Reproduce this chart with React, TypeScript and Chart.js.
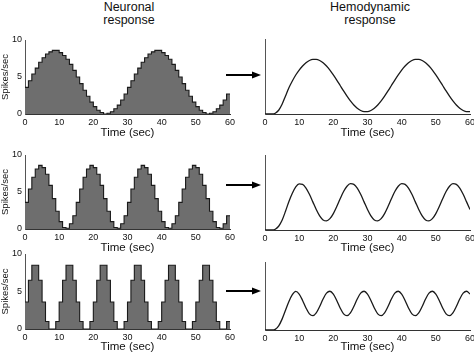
import React, { useEffect, useRef } from "react";
import { Chart, registerables } from "chart.js";
Chart.register(...registerables);

// ---------- data ----------
const xTickValues = [0, 10, 20, 30, 40, 50, 60];
const spikeTickValues = [0, 5, 10];

// neuronal firing rate per 1-s bin (spikes/sec), 60 bins
const neuronalSlow = [
  3.6, 4.5, 5.4, 6.2, 7.0, 7.6, 8.1, 8.4, 8.6, 8.6, 8.3, 7.9, 7.4, 6.7, 5.9,
  5.0, 4.1, 3.2, 2.4, 1.6, 1.0, 0.5, 0.2, 0.0, 0.1, 0.3, 0.7, 1.2, 1.9, 2.7,
  3.6, 4.5, 5.4, 6.2, 7.0, 7.6, 8.1, 8.4, 8.6, 8.6, 8.3, 7.9, 7.4, 6.7, 5.9,
  5.0, 4.1, 3.2, 2.4, 1.6, 1.0, 0.5, 0.2, 0.0, 0.1, 0.3, 0.7, 1.2, 1.9, 2.7,
];
const neuronalMedium = [
  3.6, 5.4, 7.0, 8.1, 8.6, 8.3, 7.4, 5.9, 4.1, 2.4, 1.0, 0.2, 0.1, 0.7, 1.8,
  3.6, 5.4, 7.0, 8.1, 8.6, 8.3, 7.4, 5.9, 4.1, 2.4, 1.0, 0.2, 0.1, 0.7, 1.8,
  3.6, 5.4, 7.0, 8.1, 8.6, 8.3, 7.4, 5.9, 4.1, 2.4, 1.0, 0.2, 0.1, 0.7, 1.8,
  3.6, 5.4, 7.0, 8.1, 8.6, 8.3, 7.4, 5.9, 4.1, 2.4, 1.0, 0.2, 0.1, 0.7, 1.8,
];
const neuronalFast = [
  3.6, 6.5, 8.5, 8.5, 6.5, 3.6, 1.0, 0.0, 0.0, 1.0,
  3.6, 6.5, 8.5, 8.5, 6.5, 3.6, 1.0, 0.0, 0.0, 1.0,
  3.6, 6.5, 8.5, 8.5, 6.5, 3.6, 1.0, 0.0, 0.0, 1.0,
  3.6, 6.5, 8.5, 8.5, 6.5, 3.6, 1.0, 0.0, 0.0, 1.0,
  3.6, 6.5, 8.5, 8.5, 6.5, 3.6, 1.0, 0.0, 0.0, 1.0,
  3.6, 6.5, 8.5, 8.5, 6.5, 3.6, 1.0, 0.0, 0.0, 1.0,
];

// hemodynamic response sampled each second, t = 0..60 (arbitrary units)
const hemoSlow = [
  0, 0, 0, 0.01, 0.05, 0.13, 0.24, 0.35, 0.44, 0.52,
  0.586, 0.64, 0.683, 0.713, 0.728, 0.728, 0.713, 0.683, 0.64, 0.586,
  0.522, 0.453, 0.38, 0.307, 0.238, 0.174, 0.12, 0.077, 0.047, 0.032,
  0.032, 0.047, 0.077, 0.12, 0.174, 0.238, 0.307, 0.38, 0.453, 0.522,
  0.586, 0.64, 0.683, 0.713, 0.728, 0.728, 0.713, 0.683, 0.64, 0.586,
  0.522, 0.453, 0.38, 0.307, 0.238, 0.174, 0.12, 0.077, 0.047, 0.032,
  0.032,
];
const hemoMedium = [
  0, 0, 0, 0.01, 0.05, 0.13, 0.25, 0.38, 0.49, 0.575,
  0.615, 0.609, 0.559, 0.476, 0.375, 0.273, 0.188, 0.134, 0.121, 0.151,
  0.219, 0.313, 0.417, 0.513, 0.584, 0.618, 0.609, 0.559, 0.476, 0.375,
  0.273, 0.188, 0.134, 0.121, 0.151, 0.219, 0.313, 0.417, 0.513, 0.584,
  0.618, 0.609, 0.559, 0.476, 0.375, 0.273, 0.188, 0.134, 0.121, 0.151,
  0.219, 0.313, 0.417, 0.513, 0.584, 0.618, 0.609, 0.559, 0.476, 0.375,
  0.273,
];
const hemoFast = [
  0, 0, 0, 0.01, 0.06, 0.16, 0.29, 0.42, 0.52, 0.568,
  0.529, 0.435, 0.324, 0.238, 0.21, 0.251, 0.345, 0.456, 0.542, 0.57,
  0.529, 0.435, 0.324, 0.238, 0.21, 0.251, 0.345, 0.456, 0.542, 0.57,
  0.529, 0.435, 0.324, 0.238, 0.21, 0.251, 0.345, 0.456, 0.542, 0.57,
  0.529, 0.435, 0.324, 0.238, 0.21, 0.251, 0.345, 0.456, 0.542, 0.57,
  0.529, 0.435, 0.324, 0.238, 0.21, 0.251, 0.345, 0.456, 0.542, 0.57,
  0.529,
];

// ---------- style ----------
const REG = "'Liberation Sans', Arial, Helvetica, sans-serif";
const NARROW = "'Liberation Sans Narrow', 'Arial Narrow', 'Liberation Sans', Arial, sans-serif";
const INK = "#1a1a1a";

type PanelProps = {
  kind: "hist" | "line";
  values: number[];
  left: number;
  top: number;
  width: number;
  height: number;
  padTop: number;
  padRight: number;
  yWidth: number;
  xHeight: number;
};

function Panel(p: PanelProps) {
  const ref = useRef<HTMLCanvasElement | null>(null);
  useEffect(() => {
    if (!ref.current) return;
    const isHist = p.kind === "hist";
    const pts = p.values.map((v, i) => ({ x: i, y: v }));
    if (isHist) pts.push({ x: p.values.length, y: p.values[p.values.length - 1] });
    const dataset: any = isHist
      ? {
          data: pts,
          stepped: true,
          fill: "origin",
          backgroundColor: "#6e6e6e",
          borderColor: INK,
          borderWidth: 1.1,
          pointRadius: 0,
        }
      : {
          data: pts,
          fill: false,
          borderColor: INK,
          borderWidth: 1.3,
          pointRadius: 0,
          cubicInterpolationMode: "monotone",
        };
    const chart = new Chart(ref.current, {
      type: "line",
      data: { datasets: [dataset] },
      options: {
        animation: false,
        responsive: false,
        maintainAspectRatio: false,
        layout: { padding: { top: p.padTop, right: p.padRight, left: 0, bottom: 0 } },
        plugins: { legend: { display: false }, tooltip: { enabled: false } },
        scales: {
          x: {
            type: "linear",
            min: 0,
            max: 60,
            grid: { display: false, drawTicks: false },
            border: { display: true, color: "#333", width: 1 },
            ticks: {
              font: { family: NARROW, size: 9 },
              color: "#111",
              padding: 3,
              maxRotation: 0,
              autoSkip: false,
            },
            afterBuildTicks: (s: any) => {
              s.ticks = xTickValues.map((v) => ({ value: v }));
            },
            title: {
              display: true,
              text: "Time (sec)",
              font: { family: NARROW, size: 11.5 },
              color: "#111",
              padding: { top: 0, bottom: 0 },
            },
            afterFit: (s: any) => {
              s.height = p.xHeight;
            },
          },
          y: {
            type: "linear",
            min: 0,
            max: isHist ? 10 : 1,
            grid: { display: false, drawTicks: false },
            border: { display: true, color: "#555", width: 1 },
            ticks: {
              display: isHist,
              font: { family: NARROW, size: 9 },
              color: "#111",
              padding: 3,
            },
            afterBuildTicks: (s: any) => {
              if (isHist) s.ticks = spikeTickValues.map((v) => ({ value: v }));
            },
            title: {
              display: isHist,
              text: "Spikes/sec",
              font: { family: NARROW, size: 9.5 },
              color: "#111",
              padding: { top: 0, bottom: 0 },
            },
            afterFit: (s: any) => {
              s.width = p.yWidth;
            },
          },
        },
      },
    });
    return () => chart.destroy();
  }, []);
  return (
    <canvas
      ref={ref}
      width={p.width}
      height={p.height}
      style={{ position: "absolute", left: p.left, top: p.top, width: p.width, height: p.height }}
    />
  );
}

function Arrow({ y }: { y: number }) {
  return (
    <svg width={40} height={12} style={{ position: "absolute", left: 224, top: y - 6 }}>
      <line x1={2} y1={6} x2={32} y2={6} stroke="#000" strokeWidth={2} />
      <polygon points="28,2.5 37,6 28,9.5" fill="#000" />
    </svg>
  );
}

const titleStyle: React.CSSProperties = {
  position: "absolute",
  top: 1,
  width: 160,
  textAlign: "center",
  fontFamily: REG,
  fontSize: 12.5,
  lineHeight: "13px",
  color: "#111",
};

export default function App() {
  return (
    <div
      style={{
        position: "fixed",
        left: 0,
        top: 0,
        width: 474,
        height: 353,
        overflow: "hidden",
        background: "#fff",
      }}
    >
      <div style={{ ...titleStyle, left: 49 }}>
        Neuronal
        <br />
        response
      </div>
      <div style={{ ...titleStyle, left: 290 }}>
        Hemodynamic
        <br />
        response
      </div>

      <Panel kind="hist" values={neuronalSlow} left={0} top={30} width={240} height={110} padTop={10} padRight={10} yWidth={25} xHeight={26} />
      <Panel kind="hist" values={neuronalMedium} left={0} top={145} width={240} height={110} padTop={10} padRight={10} yWidth={25} xHeight={26} />
      <Panel kind="hist" values={neuronalFast} left={0} top={244} width={240} height={110} padTop={10} padRight={10} yWidth={25} xHeight={25} />

      <Panel kind="line" values={hemoSlow} left={255} top={30} width={229} height={110} padTop={9} padRight={14} yWidth={10} xHeight={26} />
      <Panel kind="line" values={hemoMedium} left={255} top={145} width={229} height={110} padTop={10} padRight={14} yWidth={10} xHeight={25} />
      <Panel kind="line" values={hemoFast} left={255} top={244} width={229} height={110} padTop={18} padRight={14} yWidth={10} xHeight={24} />

      <Arrow y={75} />
      <Arrow y={185} />
      <Arrow y={291} />
    </div>
  );
}
